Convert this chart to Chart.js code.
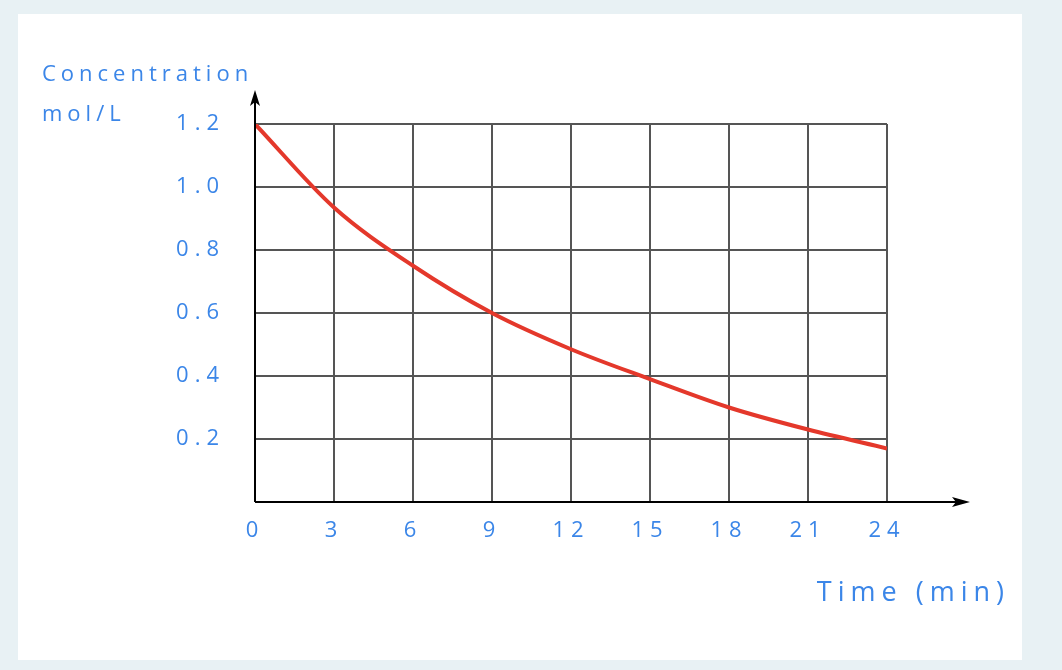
<!DOCTYPE html>
<html><head><meta charset="utf-8">
<script src="https://cdn.jsdelivr.net/npm/chart.js@4"></script>
<style>
html,body{margin:0;padding:0;background:#e8f1f4;width:1062px;height:670px;overflow:hidden}
#panel{position:absolute;left:18px;top:14px;width:1004px;height:646px;background:#fff}
</style></head><body>
<div id="panel"><canvas id="c" width="1004" height="646"></canvas></div>
<script>
const times = [0, 3, 6, 9, 12, 15, 18, 21, 24];
const concentration = [1.2, 0.935, 0.75, 0.6, 0.485, 0.39, 0.30, 0.23, 0.17];
const xTickLabels = ['0','3','6','9','12','15','18','21','24'];
const yTickLabels = ['0.2','0.4','0.6','0.8','1.0','1.2'];
const blue = '#3b86e8';
const font = "'Open Sans', sans-serif";

const deco = {
  id: 'deco',
  beforeDraw(chart){ chart.ctx.letterSpacing = '6px'; },
  afterDraw(chart){
    const ctx = chart.ctx;
    const x0 = chart.scales.x.getPixelForValue(0), y0 = chart.scales.y.getPixelForValue(0);
    ctx.save();
    ctx.letterSpacing = '0px';
    ctx.strokeStyle = '#000'; ctx.fillStyle = '#000'; ctx.lineWidth = 2;
    ctx.beginPath(); ctx.moveTo(x0, y0); ctx.lineTo(945, y0); ctx.moveTo(x0, y0); ctx.lineTo(x0, 84); ctx.stroke();
    ctx.beginPath(); ctx.moveTo(952, y0); ctx.lineTo(934, y0-5); ctx.lineTo(938, y0); ctx.lineTo(934, y0+5); ctx.closePath(); ctx.fill();
    ctx.beginPath(); ctx.moveTo(x0, 76); ctx.lineTo(x0-5, 92); ctx.lineTo(x0, 88); ctx.lineTo(x0+5, 92); ctx.closePath(); ctx.fill();
    ctx.fillStyle = blue; ctx.font = '22px ' + font; ctx.letterSpacing = '5px';
    ctx.textAlign = 'left'; ctx.textBaseline = 'middle';
    ctx.fillText('Concentration', 24, 61);
    ctx.fillText('mol/L', 24, 101);
    ctx.font = '27px ' + font; ctx.letterSpacing = '6px';
    ctx.textAlign = 'right';
    ctx.fillText('Time (min)', 992, 579);
    ctx.restore();
  }
};

new Chart(document.getElementById('c'), {
  type: 'line',
  data: { labels: times, datasets: [{ data: times.map((t,i)=>({x:t,y:concentration[i]})),
    borderColor: '#e4382b', borderWidth: 4, pointRadius: 0, cubicInterpolationMode: 'monotone', fill: false }] },
  options: {
    responsive: false, animation: false,
    layout: { padding: { left: 0, top: 110, right: 135, bottom: 0 } },
    plugins: { legend: { display: false }, tooltip: { enabled: false } },
    scales: {
      x: { type: 'linear', min: 0, max: 24,
        afterFit(s){ s.height = 158; },
        afterBuildTicks(s){ s.ticks = times.map(v=>({value:v})); },
        grid: { color: '#555', lineWidth: 2, drawTicks: false },
        border: { display: false },
        ticks: { padding: 16, color: blue, font: { size: 22, family: font },
          callback: (v) => xTickLabels[times.indexOf(v)] ?? '' } },
      y: { min: 0, max: 1.2,
        afterFit(s){ s.width = 237; },
        afterBuildTicks(s){ s.ticks = [0,0.2,0.4,0.6,0.8,1.0,1.2].map(v=>({value:v})); },
        grid: { color: '#555', lineWidth: 2, drawTicks: false },
        border: { display: false },
        ticks: { padding: 30, color: blue, font: { size: 22, family: font },
          callback: (v) => { const i = Math.round(v/0.2)-1; return i>=0 ? yTickLabels[i] : ''; } } }
    }
  },
  plugins: [deco]
});
</script></body></html>
